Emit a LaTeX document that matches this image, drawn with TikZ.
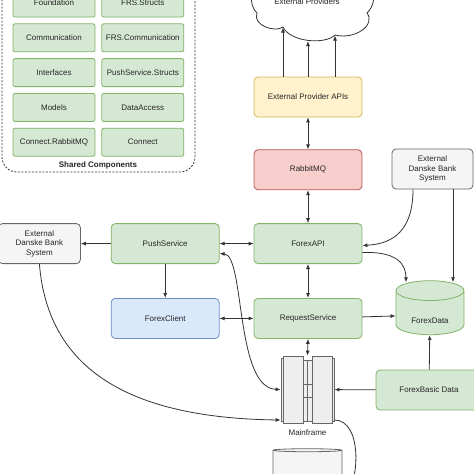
\documentclass[tikz,border=0pt]{standalone}
\usepackage{fontspec}
\setmainfont{Liberation Sans}
\usetikzlibrary{arrows.meta,positioning,shapes.geometric}

\definecolor{greenfill}{HTML}{D5E8D4}
\definecolor{greenline}{HTML}{82B366}
\definecolor{yellowfill}{HTML}{FFF2CC}
\definecolor{yellowline}{HTML}{D6B656}
\definecolor{redfill}{HTML}{F8CECC}
\definecolor{redline}{HTML}{B85450}
\definecolor{bluefill}{HTML}{DAE8FC}
\definecolor{blueline}{HTML}{6C8EBF}
\definecolor{grayfill}{HTML}{F5F5F5}
\definecolor{grayline}{HTML}{666666}
\definecolor{linecol}{HTML}{333333}
\definecolor{mfill}{HTML}{EEEEEE}

\begin{document}
\begin{tikzpicture}[
    x=1pt, y=-1pt, % pixel grid, y down
    font=\fontsize{8}{9.5}\selectfont,
    text=black!85,
    line width=0.8pt,
    >={Latex[length=5pt,width=4pt]},
    % box styles
    comp/.style={
        draw=greenline,
        fill=greenfill,
        rounded corners=2pt,
        minimum width=82pt,
        minimum height=28pt,
        inner sep=1pt
    },
    svc/.style={
        draw=greenline,
        fill=greenfill,
        rounded corners=4pt,
        minimum width=108pt,
        minimum height=40pt
    },
    ext/.style={svc, draw=grayline, fill=grayfill, align=center},
    dbase/.style={
        cylinder,
        shape border rotate=90,
        aspect=0.45
    },
    mpart/.style={draw=grayline, fill=mfill},
    oneway/.style={draw=linecol, ->},
    twoway/.style={draw=linecol, <->}
]
    \clip (0,0) rectangle (474,474);

    % --- 1. Shared Components (top left) ---
    \draw[linecol, dash pattern=on 2pt off 1.5pt, rounded corners=15pt] (2,-40) rectangle (195,172);
    \node[comp] (foundation) at (54,3) {Foundation};
    \node[comp, right=6pt of foundation] (frsstructs) {FRS.Structs};
    \node[comp, below=6pt of foundation] (communication) {Communication};
    \node[comp, right=6pt of communication] (frscomm) {FRS.Communication};
    \node[comp, below=6pt of communication] (interfaces) {Interfaces};
    \node[comp, right=6pt of interfaces] (pushstructs) {PushService.Structs};
    \node[comp, below=6pt of interfaces] (models) {Models};
    \node[comp, right=6pt of models] (dataaccess) {DataAccess};
    \node[comp, below=6pt of models] (connectmq) {Connect.RabbitMQ};
    \node[comp, right=6pt of connectmq] (connect) {Connect};
    \node[font=\fontsize{8}{9.5}\selectfont\bfseries] (sharedlbl) at (98,165) {Shared Components};

    % --- 2. External Providers (cloud) ---
    \draw[linecol, fill=white] (262,-20)
        .. controls (250,-15) and (248,5) .. (257,13)
        .. controls (252,25) and (275,33) .. (283,27)
        .. controls (290,42) and (325,45) .. (335,35)
        .. controls (355,40) and (376,25) .. (367,13)
        .. controls (380,0) and (372,-20) .. (360,-22)
        .. controls (355,-45) and (265,-45) .. (262,-20) -- cycle;
    \node (provtxt) at (307,2) {External Providers};
    \coordinate (cl1) at (283,27.5);
    \coordinate (cl2) at (308,41);
    \coordinate (cl3) at (335,35.5);

    % --- 3. Service column ---
    \node[svc, draw=yellowline, fill=yellowfill] (extapi) at (308,97) {External Provider APIs};
    \node[svc, draw=redline, fill=redfill, below=32pt of extapi] (rabbitmq) {RabbitMQ};
    \node[svc, below=33pt of rabbitmq] (forexapi) {ForexAPI};
    \node[svc, below=34pt of forexapi] (requestsvc) {RequestService};
    \node[svc, left=34pt of forexapi] (pushsvc) {PushService};
    \node[svc, draw=blueline, fill=bluefill, left=34pt of requestsvc] (forexclient) {ForexClient};
    \node[ext, minimum width=82pt, left=30pt of pushsvc] (extbankL) {External\\Danske Bank\\System};
    \node[ext, minimum width=81pt] (extbankR) at (432.5,169) {External\\Danske Bank\\System};

    % --- 4. Data stores ---
    \node[dbase, draw=greenline, fill=greenfill, minimum width=68pt, minimum height=54pt] (forexdata) at (430,315) {\raisebox{-8pt}[0pt][0pt]{ForexData}};
    \node[svc, minimum width=106pt] (forexbasic) at (429,390) {ForexBasic Data};
    \node[dbase, draw=grayline, fill=grayfill, minimum width=69pt, minimum height=100pt] (olddb) at (307.5,500) {};

    % --- 5. Mainframe ---
    \node[minimum width=53pt, minimum height=67pt, inner sep=0pt] (mainframe) at (307.5,389.5) {};
    \draw[mpart] (281,358) rectangle (303,421);
    \draw[mpart] (283,356) rectangle (303,423);
    \draw[mpart] (303,360) rectangle (312,421);
    \draw[grayline] (307.5,360) -- (307.5,421);
    \draw[grayline] (303,384) -- (312,384);
    \draw[grayline] (303,397) -- (312,397);
    \draw[mpart] (312,358) rectangle (334,421);
    \draw[mpart] (312,356) rectangle (332,423);
    \node[below=3pt of mainframe] (mflabel) {Mainframe};

    % --- 6. Arrows ---
    \draw[oneway] (extapi.north -| cl1) -- (cl1);
    \draw[oneway] (extapi.north -| cl2) -- (cl2);
    \draw[oneway] (extapi.north -| cl3) -- (cl3);
    \draw[twoway] (extapi) -- (rabbitmq);
    \draw[twoway] (rabbitmq) -- (forexapi);
    \draw[twoway] (forexapi) -- (requestsvc);
    \draw[twoway] (requestsvc.south) -- (mainframe.north);
    \draw[twoway] (pushsvc) -- (forexapi);
    \draw[twoway] (forexclient) -- (requestsvc);
    \draw[oneway] (pushsvc) -- (extbankL);
    \draw[oneway] (pushsvc) -- (forexclient);
    \draw[oneway] (requestsvc) -- (forexdata);
    \draw[oneway] (forexbasic) -- (forexdata);
    \draw[oneway] (forexbasic) -- (mainframe);

    % curved connectors
    \draw[oneway] ([xshift=-19.5pt]extbankR.south) .. controls (413,238) and (385,244) .. ([yshift=-2pt]forexapi.east);
    \coordinate (datatopR) at ([xshift=23pt,yshift=-2pt]forexdata.north);
    \draw[oneway] (extbankR.south -| datatopR) -- (datatopR);
    \coordinate (datatopL) at ([xshift=-24pt,yshift=-2pt]forexdata.north);
    \draw[oneway] ([yshift=-9pt]forexapi.east) .. controls (398,251) and (406,265) .. (datatopL);
    \draw[oneway] (extbankL.south) .. controls (48,370) and (130,418) .. ([yshift=-30.5pt]mainframe.west);
    \draw[twoway] ([yshift=-10pt]pushsvc.east) .. controls (245,255) and (235,388) .. (mainframe.west);
    \draw[oneway] ([yshift=-30.5pt]mainframe.east) .. controls (362,420) and (360,480) .. (olddb.east);
\end{tikzpicture}
\end{document}
